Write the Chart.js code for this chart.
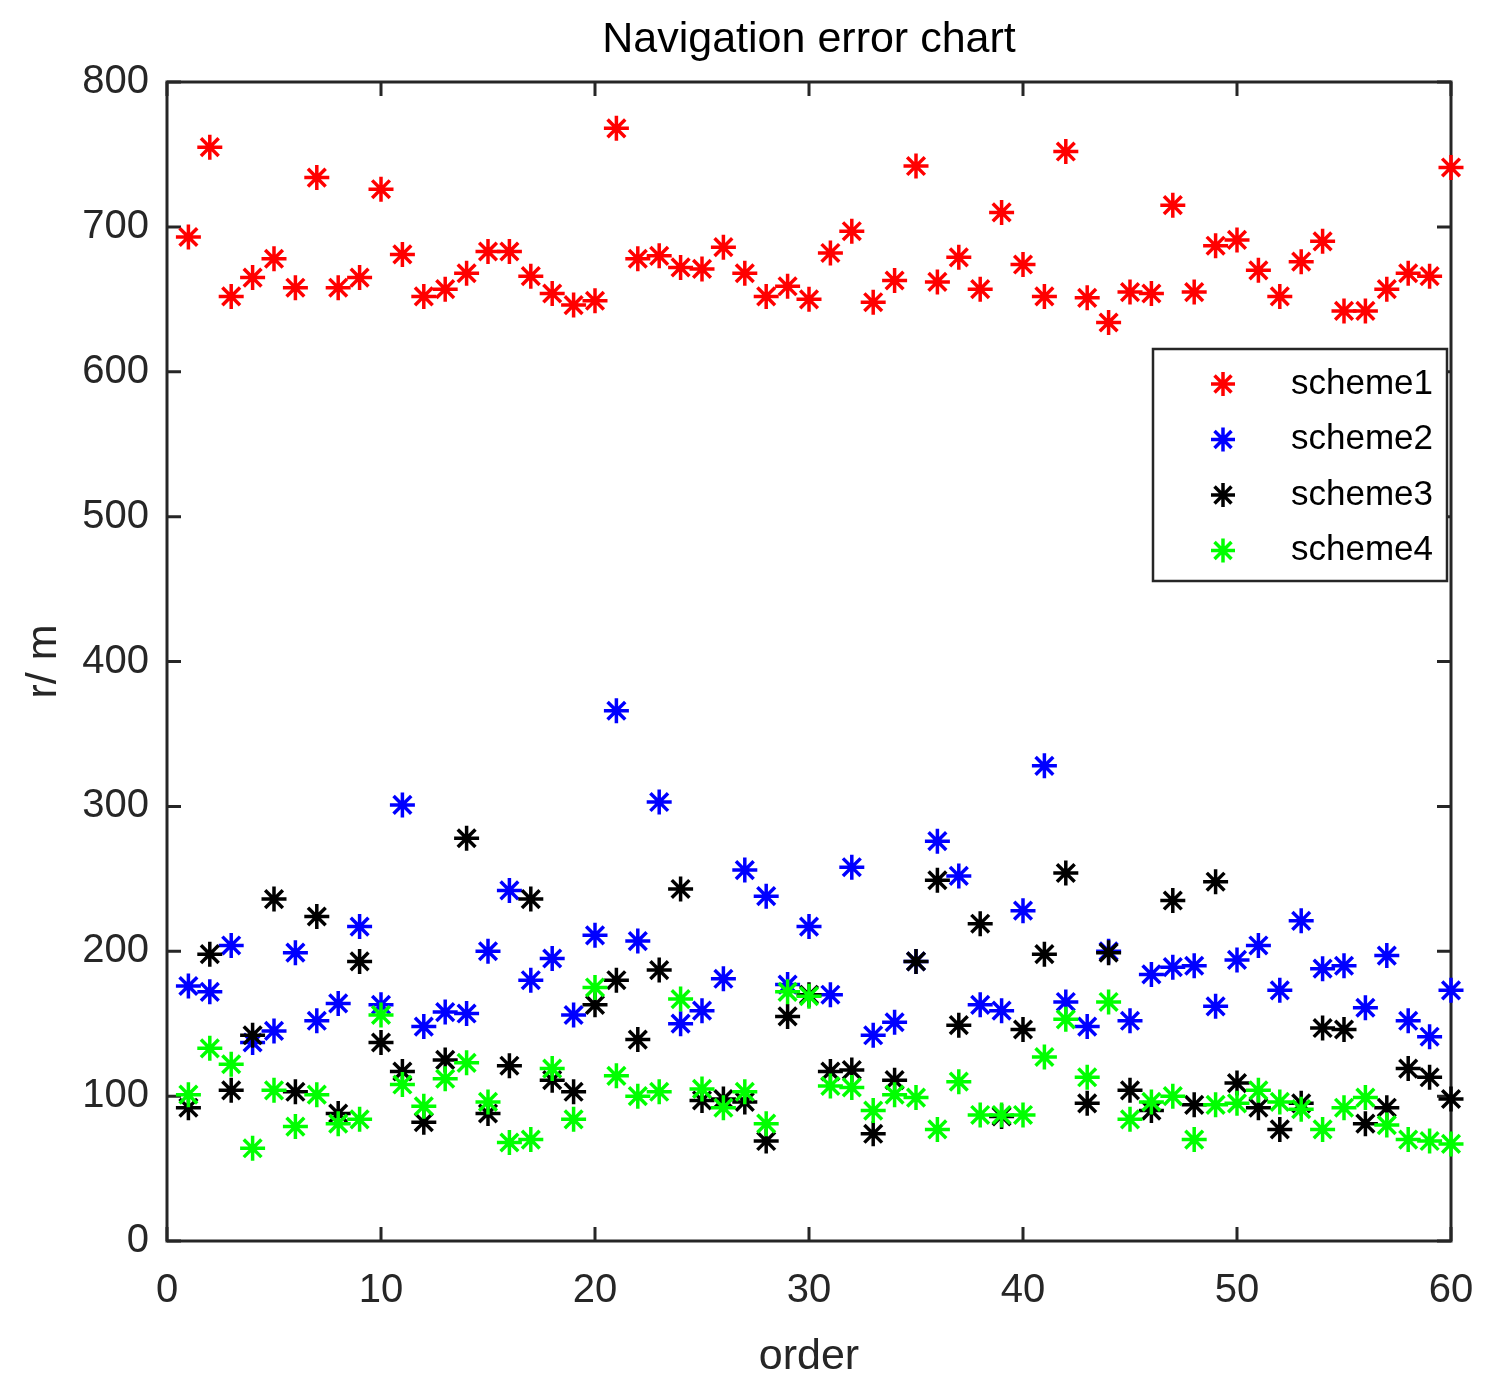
<!DOCTYPE html>
<html>
<head>
<meta charset="utf-8">
<title>Navigation error chart</title>
<script src="https://cdn.jsdelivr.net/npm/chart.js@4.4.1/dist/chart.umd.min.js"></script>
<style>
  html, body { margin: 0; padding: 0; background: #fff; }
  #chart { display: block; }
</style>
</head>
<body>
<canvas id="chart" width="1496" height="1395"></canvas>
<script>
// x values (order)
const orderNo = [1, 2, 3, 4, 5, 6, 7, 8, 9, 10, 11, 12, 13, 14, 15, 16, 17, 18, 19, 20,
    21, 22, 23, 24, 25, 26, 27, 28, 29, 30, 31, 32, 33, 34, 35, 36, 37, 38, 39, 40,
    41, 42, 43, 44, 45, 46, 47, 48, 49, 50, 51, 52, 53, 54, 55, 56, 57, 58, 59, 60];

// r/ m
const scheme1 = [693, 755, 652, 665, 678, 658, 734, 658, 665, 726,
    681, 652, 657, 668, 683, 683, 666, 654, 646, 649,
    768, 678, 680, 672, 671, 686, 668, 652, 659, 650,
    682, 697, 648, 663, 742, 662, 679, 657, 710, 674,
    652, 752, 651, 634, 655, 654, 715, 655, 687, 691,
    670, 652, 676, 690, 642, 642, 657, 668, 666, 741];
const scheme2 = [176, 172, 204, 137, 145, 199, 152, 164, 217, 163,
    301, 148, 158, 157, 200, 242, 180, 195, 156, 211,
    366, 207, 303, 150, 159, 181, 256, 238, 177, 217,
    170, 258, 142, 151, 193, 276, 252, 163, 159, 228,
    328, 165, 148, 200, 152, 184, 189, 190, 162, 194,
    204, 173, 221, 188, 190, 161, 197, 152, 141, 173];
const scheme3 = [92, 198, 104, 142, 236, 103, 224, 88, 193, 137,
    117, 82, 125, 278, 88, 121, 236, 111, 103, 163,
    180, 139, 187, 243, 97, 98, 96, 69, 155, 170,
    117, 118, 74, 111, 193, 249, 149, 219, 86, 146,
    198, 254, 95, 199, 104, 90, 235, 94, 248, 109,
    92, 77, 95, 147, 146, 81, 92, 119, 113, 98];
const scheme4 = [101, 133, 122, 64, 104, 79, 101, 81, 84, 156,
    108, 93, 112, 123, 96, 68, 70, 119, 84, 175,
    114, 100, 103, 167, 105, 92, 103, 81, 172, 169,
    107, 106, 90, 101, 99, 77, 110, 87, 87, 87,
    127, 153, 113, 165, 84, 96, 100, 70, 94, 95,
    104, 96, 91, 77, 92, 99, 80, 70, 69, 67];

const seriesNames = ['scheme1', 'scheme2', 'scheme3', 'scheme4'];
const seriesColors = ['#ff0000', '#0000ff', '#000000', '#00ff00'];
const chartTitle = 'Navigation error chart';

const axisColor = '#262626';
const fontFamily = '"Liberation Sans", Arial, Helvetica, sans-serif';

Chart.defaults.font.family = fontFamily;

function toPoints(values) {
    return values.map((v, i) => ({ x: orderNo[i], y: v }));
}

function makeDataset(i, values) {
    return {
        label: seriesNames[i],
        data: toPoints(values),
        showLine: false,
        pointStyle: 'star',
        pointRadius: 12.5,
        pointBorderWidth: 3.5,
        pointBorderColor: seriesColors[i],
        pointBackgroundColor: seriesColors[i],
        borderColor: seriesColors[i],
        clip: false,
        order: 4 - i   // later schemes drawn on top
    };
}

// box around the axes with inward ticks on all four sides, plus the title
const boxPlugin = {
    id: 'matlabBox',
    beforeDatasetsDraw(chart) {
        const { ctx, chartArea: a, scales: { x, y } } = chart;
        const len = 14;
        ctx.save();
        ctx.strokeStyle = axisColor;
        ctx.lineWidth = 3;
        ctx.beginPath();
        x.ticks.forEach(t => {
            const px = x.getPixelForValue(t.value);
            ctx.moveTo(px, a.bottom);
            ctx.lineTo(px, a.bottom - len);
            ctx.moveTo(px, a.top);
            ctx.lineTo(px, a.top + len);
        });
        y.ticks.forEach(t => {
            const py = y.getPixelForValue(t.value);
            ctx.moveTo(a.left, py);
            ctx.lineTo(a.left + len, py);
            ctx.moveTo(a.right, py);
            ctx.lineTo(a.right - len, py);
        });
        ctx.stroke();
        ctx.strokeRect(a.left, a.top, a.right - a.left, a.bottom - a.top);

        ctx.fillStyle = '#000000';
        ctx.font = '43px ' + fontFamily;
        ctx.textAlign = 'center';
        ctx.textBaseline = 'middle';
        ctx.fillText(chartTitle, (a.left + a.right) / 2, 40);
        ctx.restore();
    }
};

function drawAsterisk(ctx, cx, cy, r) {
    const d = r * Math.SQRT1_2;
    ctx.beginPath();
    ctx.moveTo(cx - r, cy); ctx.lineTo(cx + r, cy);
    ctx.moveTo(cx, cy - r); ctx.lineTo(cx, cy + r);
    ctx.moveTo(cx - d, cy - d); ctx.lineTo(cx + d, cy + d);
    ctx.moveTo(cx - d, cy + d); ctx.lineTo(cx + d, cy - d);
    ctx.stroke();
}

// legend box in the upper right, like the matlab one
const legendPlugin = {
    id: 'matlabLegend',
    afterDraw(chart) {
        const ctx = chart.ctx;
        const box = { x: 1153, y: 349, w: 294, h: 232 };
        ctx.save();
        ctx.fillStyle = '#ffffff';
        ctx.fillRect(box.x, box.y, box.w, box.h);
        ctx.strokeStyle = axisColor;
        ctx.lineWidth = 2.5;
        ctx.strokeRect(box.x, box.y, box.w, box.h);

        ctx.font = '35px ' + fontFamily;
        ctx.textBaseline = 'middle';
        ctx.textAlign = 'left';
        chart.data.datasets.forEach((ds, i) => {
            const rowY = 384 + i * 55.5;
            ctx.strokeStyle = ds.pointBorderColor;
            ctx.lineWidth = 3.5;
            drawAsterisk(ctx, 1223, rowY, 12);
            ctx.fillStyle = '#000000';
            ctx.fillText(ds.label, 1291, rowY);
        });
        ctx.restore();
    }
};

new Chart(document.getElementById('chart'), {
    type: 'scatter',
    data: {
        datasets: [
            makeDataset(0, scheme1),
            makeDataset(1, scheme2),
            makeDataset(2, scheme3),
            makeDataset(3, scheme4)
        ]
    },
    options: {
        responsive: false,
        animation: false,
        events: [],
        layout: { padding: { left: 0, right: 45, top: 82, bottom: 0 } },
        plugins: {
            legend: { display: false },
            tooltip: { enabled: false },
            title: { display: false }
        },
        scales: {
            x: {
                type: 'linear',
                min: 0,
                max: 60,
                grid: { display: false, drawTicks: false },
                border: { display: false },
                ticks: { stepSize: 10, color: axisColor, font: { size: 40 }, padding: 26, maxRotation: 0 },
                title: {
                    display: true,
                    text: 'order',
                    color: axisColor,
                    font: { size: 43 },
                    padding: { top: 0, bottom: 12 }
                },
                afterFit(scale) {
                    scale.height = 154;
                    scale.paddingLeft = 0;
                    scale.paddingRight = 0;
                }
            },
            y: {
                type: 'linear',
                min: 0,
                max: 800,
                grid: { display: false, drawTicks: false },
                border: { display: false },
                ticks: { stepSize: 100, color: axisColor, font: { size: 40 }, padding: 18 },
                title: {
                    display: true,
                    text: 'r/ m',
                    color: axisColor,
                    font: { size: 43 },
                    padding: { top: 18, bottom: 0 }
                },
                afterFit(scale) {
                    scale.width = 167;
                    scale.paddingTop = 0;
                    scale.paddingBottom = 0;
                }
            }
        }
    },
    plugins: [boxPlugin, legendPlugin]
});
</script>
</body>
</html>
